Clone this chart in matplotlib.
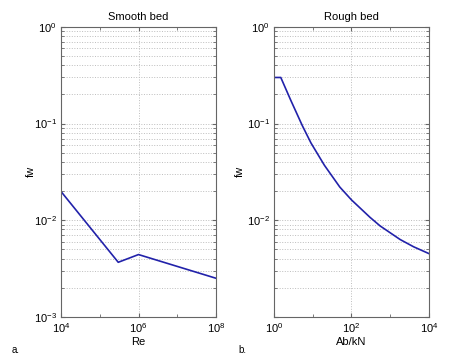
import matplotlib
matplotlib.use("Agg")
import matplotlib.pyplot as plt
from matplotlib.ticker import FixedLocator, LogLocator, NullFormatter, FixedFormatter

plt.rcParams["font.family"] = ["Liberation Sans", "DejaVu Sans"]
plt.rcParams["mathtext.fontset"] = "custom"
plt.rcParams["mathtext.rm"] = "Liberation Sans"

# smooth bed: wave friction factor vs Reynolds number
re_vals = [1e4, 3.0e5, 1e6, 1e8]
fw_smooth = [0.0198, 0.00366, 0.0044, 0.0025]

# rough bed: wave friction factor vs relative roughness
ab_kn = [1, 1.5, 2.7, 5.4, 9, 20, 50, 100, 300, 550, 1800, 4000, 10000]
fw_rough = [0.30, 0.30, 0.175, 0.095, 0.063, 0.037, 0.022, 0.0162,
            0.0107, 0.0087, 0.0063, 0.0053, 0.0045]

LINE = "#2222aa"
GRID = "#bdbdbd"
EDGE = "#666666"


def style_axes(ax, xticks, xminor, xlabels, ylabels, ylab_x):
    ax.set_xscale("log")
    ax.set_yscale("log")
    ax.set_xlim(xticks[0], xticks[-1])
    ax.set_ylim(1e-3, 1e0)
    ax.xaxis.set_major_locator(FixedLocator(xticks))
    ax.xaxis.set_major_formatter(FixedFormatter(xlabels))
    ax.xaxis.set_minor_locator(FixedLocator(xminor))
    ax.xaxis.set_minor_formatter(NullFormatter())
    ax.yaxis.set_major_locator(FixedLocator([1e-3, 1e-2, 1e-1, 1e0]))
    ax.yaxis.set_major_formatter(FixedFormatter(ylabels))
    ax.yaxis.set_minor_locator(LogLocator(base=10, subs=range(2, 10), numticks=20))
    ax.yaxis.set_minor_formatter(NullFormatter())
    ax.tick_params(which="both", direction="in", top=True, right=True,
                   labelsize=8, color=EDGE, pad=3)
    ax.tick_params(which="major", length=3)
    ax.tick_params(which="minor", length=2)
    ax.grid(True, which="major", axis="both", linestyle=":", color=GRID, lw=0.7)
    ax.grid(True, which="minor", axis="y", linestyle=":", color=GRID, lw=0.7)
    for s in ax.spines.values():
        s.set_color(EDGE)
        s.set_linewidth(0.8)
    ax.set_ylabel("fw", fontsize=8)
    ax.yaxis.set_label_coords(ylab_x, 0.5)


fig = plt.figure(figsize=(4.74, 3.56), dpi=100)
ax1 = fig.add_axes([0.1287, 0.1104, 0.327, 0.8138])
ax2 = fig.add_axes([0.578, 0.1104, 0.327, 0.8138])

ax1.plot(re_vals, fw_smooth, color=LINE, lw=1.2)
style_axes(ax1, [1e4, 1e6, 1e8], [1e5, 1e7],
           [r"$10^{4}$", r"$10^{6}$", r"$10^{8}$"],
           [r"$10^{-3}$", r"$10^{-2}$", r"$10^{-1}$", r"$10^{0}$"], -0.16)
ax1.set_title("Smooth bed", fontsize=8, pad=5)
ax1.set_xlabel("Re", fontsize=8, labelpad=2)

ax2.plot(ab_kn, fw_rough, color=LINE, lw=1.2)
style_axes(ax2, [1e0, 1e2, 1e4], [1e1, 1e3],
           [r"$10^{0}$", r"$10^{2}$", r"$10^{4}$"],
           ["", r"$10^{-2}$", r"$10^{-1}$", r"$10^{0}$"], -0.19)
ax2.set_title("Rough bed", fontsize=8, pad=5)
ax2.set_xlabel("Ab/kN", fontsize=8, labelpad=2)

fig.text(12 / 474, 1 - 350 / 356, "a.", fontsize=7, va="center")
fig.text(238 / 474, 1 - 350 / 356, "b.", fontsize=7, va="center")

fig.savefig("out.png", dpi=100)
